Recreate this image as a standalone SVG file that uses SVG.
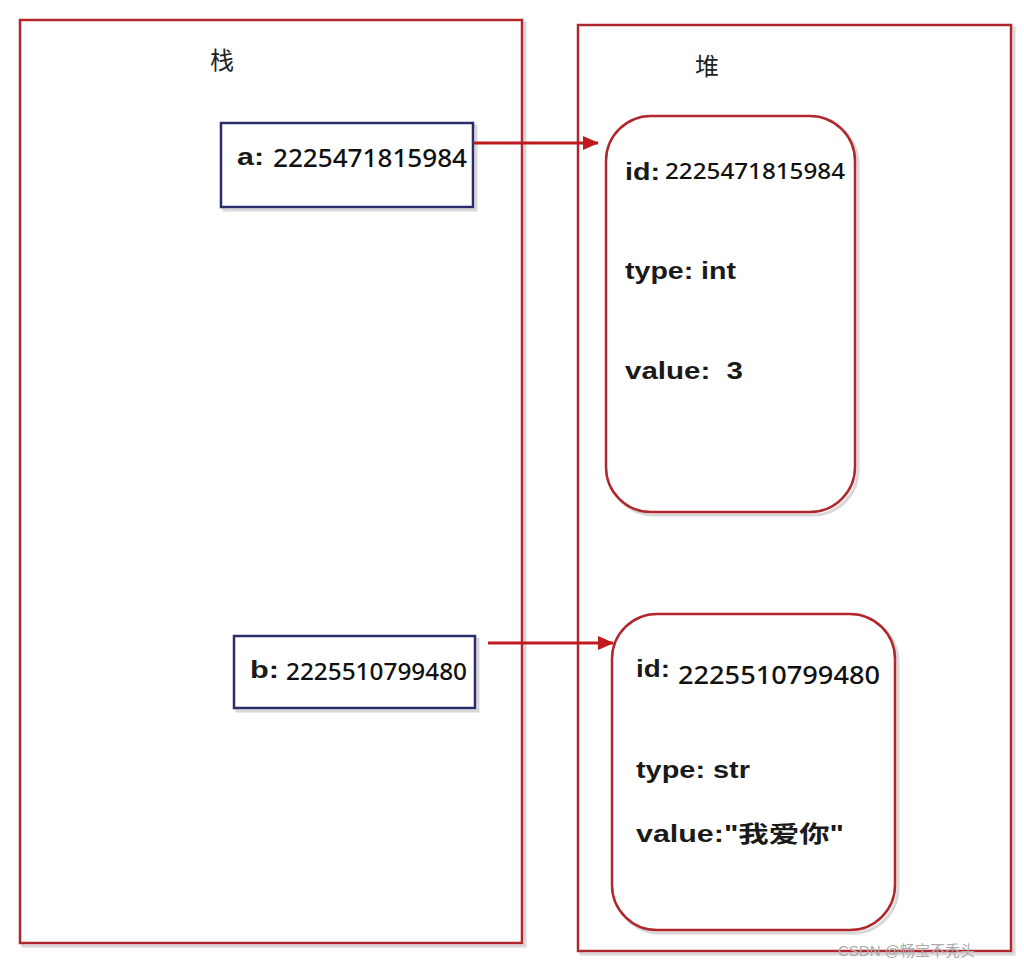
<svg xmlns="http://www.w3.org/2000/svg" width="1024" height="971" viewBox="0 0 1024 971">
<defs>
<marker id="ah" markerWidth="16" markerHeight="14" refX="15" refY="7" orient="auto" markerUnits="userSpaceOnUse" viewBox="0 0 16 14">
<path d="M0,0 L16,7 L0,14 Z" fill="#c01a20"/>
</marker>
<style>
.frame{fill:#fff;stroke:#b0282e;stroke-width:2.5}
.var{fill:#fff;stroke:#2b2d6b;stroke-width:2.5}
.obj{fill:#fff;stroke:#b0282e;stroke-width:2.5}
.shadow{fill:none;stroke:#d8d8d8;stroke-width:3}
.t{font-family:"Liberation Sans","Noto Sans CJK SC",sans-serif;fill:#111}
.b{font-weight:bold;fill:#1a1a1a}
.num{font-family:"Noto Sans","Liberation Sans",sans-serif;fill:#111;font-weight:500}
.cjk{font-family:"Noto Sans CJK SC",sans-serif;fill:#222}
.conn{stroke:#c01a20;stroke-width:3;fill:none}
</style>
</defs>
<rect width="1024" height="971" fill="#fff"/>
<g id="stack">
<rect x="23" y="23" width="502" height="923" class="shadow"/>
<rect x="20" y="20" width="502" height="923" class="frame"/>
<text x="222" y="69" class="cjk" font-size="24" text-anchor="middle">栈</text>
</g>
<g id="heap">
<rect x="581" y="28" width="433" height="926" class="shadow"/>
<rect x="578" y="25" width="433" height="926" class="frame"/>
<text x="707" y="75" class="cjk" font-size="24" text-anchor="middle">堆</text>
</g>
<g id="var-a">
<rect x="224" y="126" width="252" height="84" class="shadow"/>
<rect x="221" y="123" width="252" height="84" class="var"/>
<text x="237" y="165" class="t b" font-size="23" textLength="27" lengthAdjust="spacingAndGlyphs">a:</text>
<text x="273" y="167" class="num" font-size="25" textLength="194" lengthAdjust="spacingAndGlyphs">2225471815984</text>
</g>
<g id="var-b">
<rect x="237" y="639" width="241" height="72" class="shadow"/>
<rect x="234" y="636" width="241" height="72" class="var"/>
<text x="250" y="678" class="t b" font-size="24" textLength="29" lengthAdjust="spacingAndGlyphs">b:</text>
<text x="286" y="680" class="num" font-size="23" textLength="181" lengthAdjust="spacingAndGlyphs">2225510799480</text>
</g>
<g id="obj-a">
<rect x="609" y="119" width="249" height="396" rx="45" class="shadow"/>
<rect x="606" y="116" width="249" height="396" rx="45" class="obj"/>
<text x="625" y="180" class="t b" font-size="23" textLength="35" lengthAdjust="spacingAndGlyphs">id:</text>
<text x="665" y="179" class="num" font-size="22" textLength="180" lengthAdjust="spacingAndGlyphs">2225471815984</text>
<text x="625" y="279" class="t b" font-size="23" textLength="111" lengthAdjust="spacingAndGlyphs">type: int</text>
<text x="625" y="379" class="t b" font-size="23" textLength="118" lengthAdjust="spacingAndGlyphs" xml:space="preserve">value:  3</text>
</g>
<g id="obj-b">
<rect x="615" y="617" width="283" height="316" rx="45" class="shadow"/>
<rect x="612" y="614" width="283" height="316" rx="45" class="obj"/>
<text x="636" y="677" class="t b" font-size="23" textLength="34" lengthAdjust="spacingAndGlyphs">id:</text>
<text x="678" y="684" class="num" font-size="26" textLength="202" lengthAdjust="spacingAndGlyphs">2225510799480</text>
<text x="636" y="778" class="t b" font-size="23" textLength="114" lengthAdjust="spacingAndGlyphs">type: str</text>
<text x="636" y="842" class="t b" font-size="23" textLength="208" lengthAdjust="spacingAndGlyphs">value:"我爱你"</text>
</g>
<g id="connectors">
<line x1="473" y1="143" x2="598" y2="143" class="conn" marker-end="url(#ah)"/>
<line x1="488" y1="643" x2="613" y2="643" class="conn" marker-end="url(#ah)"/>
</g>
<text x="838" y="956" font-family="Liberation Sans,Noto Sans CJK SC,sans-serif" font-size="15" fill="#aaaaaa">CSDN @畅宝不秃头</text>
</svg>
